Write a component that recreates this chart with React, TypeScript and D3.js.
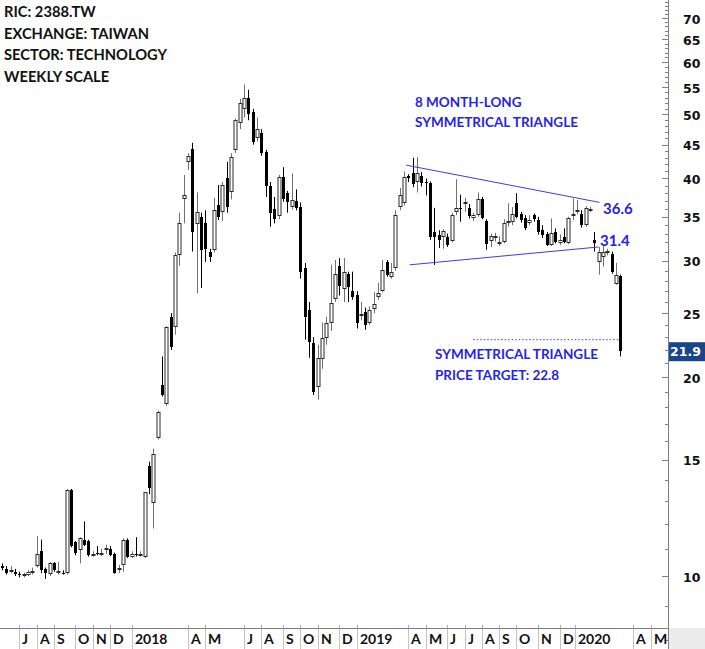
import React from 'react';
import * as d3 from 'd3';

// Weekly OHLC, 2388.TW (bar index 0 = first week shown, June 2017)
const opens = [
  10.35, 10.25, 10.2, 10.15, 10.08, 10.0, 10.05, 10.15, 10.35, 10.9,
  10.25, 10.07, 10.45, 10.1, 10.12, 10.1, 13.5, 11.25, 10.95, 11.35,
  11.3, 10.75, 10.82, 10.75, 11.0, 11.0, 10.8, 10.25, 10.4, 11.35,
  10.7, 10.78, 10.75, 10.7, 14.7, 12.9, 16.2, 19.46, 18.2, 24.7,
  23.8, 30.6, 37.2, 42.4, 44.3, 34.1, 35.0, 34.3, 30.9, 31.2,
  36.5, 35.6, 40.0, 38.2, 44.1, 48.5, 51.0, 53.0, 50.5, 46.0,
  46.9, 43.8, 39.0, 36.0, 35.1, 40.2, 38.0, 36.2, 37.0, 36.2,
  29.3, 25.3, 22.5, 19.3, 21.3, 22.9, 24.2, 26.3, 29.5, 27.2,
  28.7, 27.0, 26.6, 24.9, 25.1, 24.2, 25.4, 26.5, 27.0, 29.9,
  28.4, 29.3, 36.2, 36.7, 40.3, 40.8, 39.5, 40.3, 39.5, 39.4,
  33.2, 32.9, 32.6, 32.6, 32.2, 35.6, 36.1, 36.7, 36.1, 34.8,
  35.2, 37.3, 34.5, 32.2, 32.7, 31.8, 32.1, 34.4, 34.4, 36.7,
  35.3, 34.8, 34.2, 35.2, 34.6, 33.4, 33.0, 31.7, 33.2, 31.9,
  32.6, 31.9, 35.3, 35.8, 35.4, 34.0, 35.95, 32.3, 29.9, 30.4,
  30.8, 30.7, 27.7, 28.5,
];
const highs = [
  10.45, 10.35, 10.35, 10.25, 10.15, 10.12, 10.2, 10.3, 11.5, 11.35,
  10.3, 10.5, 10.5, 10.5, 10.2, 13.55, 13.55, 11.3, 11.45, 12.1,
  11.35, 10.9, 11.1, 11.0, 11.15, 11.1, 10.85, 10.4, 11.4, 11.4,
  10.9, 11.45, 10.9, 13.4, 14.9, 15.6, 17.8, 21.5, 23.9, 25.0,
  30.9, 35.5, 40.5, 43.7, 45.3, 38.1, 35.5, 35.8, 31.3, 37.4,
  39.1, 39.5, 42.4, 43.7, 49.3, 52.8, 55.5, 54.5, 51.0, 49.5,
  47.5, 44.2, 39.5, 37.5, 40.5, 41.6, 38.3, 40.7, 38.5, 36.8,
  29.8, 26.0, 23.0, 22.4, 24.2, 24.7, 29.6, 30.1, 30.3, 30.3,
  28.9, 28.9, 27.0, 26.0, 25.5, 25.6, 26.9, 27.8, 30.1, 30.1,
  29.8, 35.8, 38.7, 41.0, 40.6, 43.0, 43.1, 40.9, 40.0, 39.6,
  36.1, 33.4, 33.5, 33.0, 35.5, 39.9, 37.8, 37.4, 36.6, 35.5,
  38.1, 37.5, 34.7, 33.0, 33.1, 32.7, 34.7, 36.7, 36.2, 38.0,
  35.6, 35.2, 35.2, 35.4, 35.0, 34.0, 33.2, 34.8, 33.6, 32.9,
  33.6, 35.0, 37.3, 37.1, 35.8, 36.3, 36.2, 33.2, 31.5, 31.6,
  31.3, 31.0, 29.8, 28.6,
];
const lows = [
  10.2, 10.05, 10.1, 10.0, 9.95, 9.95, 10.0, 10.05, 10.3, 10.1,
  9.9, 10.0, 10.15, 10.05, 10.05, 10.05, 11.05, 10.75, 10.45, 11.1,
  10.7, 10.7, 10.75, 10.72, 10.8, 10.72, 10.08, 10.1, 10.15, 10.65,
  10.65, 10.7, 10.7, 10.65, 13.3, 11.8, 16.1, 18.7, 18.1, 22.0,
  23.2, 29.5, 34.2, 41.2, 31.0, 26.8, 27.3, 29.9, 29.9, 30.9,
  34.6, 34.5, 35.5, 37.2, 43.7, 47.5, 49.5, 49.0, 45.0, 45.5,
  43.3, 37.5, 33.8, 34.2, 34.7, 36.9, 35.5, 35.9, 35.8, 28.2,
  22.8, 21.4, 18.8, 18.5, 20.6, 22.4, 23.5, 26.0, 26.6, 26.0,
  26.0, 26.2, 23.7, 24.4, 23.6, 24.0, 25.0, 26.2, 26.9, 28.4,
  28.2, 29.0, 35.8, 36.4, 39.5, 38.8, 38.1, 38.9, 37.7, 32.3,
  29.6, 31.4, 31.3, 31.5, 32.0, 35.2, 34.4, 35.6, 34.8, 34.5,
  35.0, 34.7, 31.2, 31.5, 32.1, 31.6, 31.9, 33.8, 34.0, 34.8,
  34.3, 33.4, 34.0, 34.4, 32.9, 32.5, 31.6, 31.6, 31.9, 31.7,
  31.9, 31.8, 34.6, 35.3, 33.7, 33.8, 35.6, 31.0, 28.6, 29.4,
  30.6, 28.7, 27.6, 21.5,
];
const closes = [
  10.3, 10.1, 10.22, 10.07, 10.03, 10.08, 10.15, 10.18, 10.8, 10.2,
  10.1, 10.45, 10.2, 10.18, 10.1, 13.5, 11.1, 10.85, 11.4, 11.15,
  10.75, 10.8, 10.8, 10.82, 11.02, 10.75, 10.12, 10.3, 11.35, 10.7,
  10.8, 10.75, 10.8, 13.4, 13.6, 15.3, 17.7, 18.8, 23.8, 22.2,
  30.6, 34.2, 37.75, 43.3, 33.2, 35.6, 31.2, 31.3, 30.4, 35.8,
  35.0, 39.1, 36.2, 43.1, 49.0, 52.0, 53.0, 50.0, 45.5, 47.5,
  43.7, 39.0, 35.5, 34.7, 40.2, 37.2, 36.8, 37.1, 36.1, 28.9,
  24.7, 22.6, 19.0, 21.4, 22.9, 24.2, 25.9, 28.7, 27.5, 28.9,
  27.4, 26.5, 24.2, 24.95, 24.0, 25.3, 25.8, 26.8, 29.1, 28.6,
  28.9, 35.2, 37.8, 40.2, 40.0, 39.3, 40.8, 39.4, 39.45, 32.6,
  32.6, 32.3, 33.3, 31.7, 35.2, 36.1, 35.9, 36.8, 35.1, 35.2,
  37.2, 34.8, 31.8, 32.7, 32.75, 32.0, 34.3, 34.5, 35.4, 35.0,
  34.6, 33.7, 34.6, 34.7, 33.2, 32.8, 31.7, 33.1, 32.1, 32.3,
  32.1, 34.8, 35.4, 35.85, 34.0, 36.1, 36.0, 31.9, 30.9, 31.0,
  31.05, 28.9, 28.6, 21.9,
];

const priceTicks = [10, 15, 20, 25, 30, 35, 40, 45, 50, 55, 60, 65, 70];
const monthLabels = ['J', 'A', 'S', 'O', 'N', 'D', '2018', 'A', 'M', 'J', 'A', 'S', 'O', 'N', 'D', '2019', 'A', 'M', 'J', 'J', 'A', 'S', 'O', 'N', 'D', '2020', 'A', 'M'];
const monthBars = [4, 8, 12, 17, 21, 25, 30, 43, 47, 56, 60, 65, 69, 73, 78, 82, 94, 98, 103, 107, 111, 115, 119, 124, 129, 132.5, 146, 150];

const upperTrend = [{ bar: 93.5, price: 41.9 }, { bar: 138.2, price: 36.8 }];
const lowerTrend = [{ bar: 94.3, price: 29.6 }, { bar: 138, price: 31.5 }];
const targetLine = [{ bar: 109, price: 22.8 }, { bar: 143, price: 22.8 }];
const lastPrice = 21.9;

const titleLines = ['RIC: 2388.TW', 'EXCHANGE: TAIWAN', 'SECTOR: TECHNOLOGY', 'WEEKLY SCALE'];

const W = 705;
const H = 649;
const AXIS_X = 668;
const AXIS_Y = 628;
const FONT = 'Lato, "Open Sans", sans-serif';
const AXIS_FONT = '"DejaVu Sans", Verdana, sans-serif';
const BLUE = '#2424e8';

export default function App() {
  const x = d3.scaleLinear().domain([0, 150]).range([2, 650.5]);
  const y = d3.scaleLog().domain([10, 70]).range([576, 18]);

  const minorTicks = d3.range(8, 75);
  const line = d3.line<{ bar: number; price: number }>().x((d) => x(d.bar)).y((d) => y(d.price));

  return (
    <svg width={W} height={H} style={{ position: 'absolute', left: 0, top: 0, background: '#fff' }} fontFamily={FONT}>
      <rect x={0} y={0} width={W} height={H} fill="#fff" />
      {/* bottom-right corner */}
      <rect x={AXIS_X} y={AXIS_Y} width={W - AXIS_X} height={H - AXIS_Y} fill="#ececec" />

      {/* candles */}
      <g>
        {opens.map((o, i) => {
          const c = closes[i];
          const cx = Math.round(x(i));
          const up = c >= o;
          const top = Math.round(y(Math.max(o, c)));
          const bot = Math.round(y(Math.min(o, c)));
          const hgt = Math.max(1, bot - top);
          return (
            <g key={i}>
              <line x1={cx + 0.5} x2={cx + 0.5} y1={y(highs[i])} y2={y(lows[i])} stroke={up ? '#707070' : '#000'} strokeWidth={1} />
              {up ? (
                <rect x={cx - 1} y={top + 0.5} width={3} height={Math.max(1, hgt - 1)} fill="#fff" stroke="#2a2a2a" strokeWidth={1} />
              ) : (
                <rect x={cx - 1} y={top} width={3} height={hgt} fill="#000" />
              )}
            </g>
          );
        })}
      </g>

      {/* triangle */}
      <path d={line(upperTrend) || ''} stroke="#3c3cf0" strokeWidth={1} fill="none" />
      <path d={line(lowerTrend) || ''} stroke="#3c3cf0" strokeWidth={1} fill="none" />
      <path d={line(targetLine) || ''} stroke="#3c3cf0" strokeWidth={1} strokeDasharray="1.5,2" fill="none" />

      {/* title */}
      {titleLines.map((t, i) => (
        <text key={t} x={4} y={17 + i * 21.7} fontSize={14.7} fontWeight={700} fill="#111">{t}</text>
      ))}

      {/* annotations */}
      <g fill={BLUE} fontSize={13.5} fontWeight={700}>
        <text x={415} y={107}>8 MONTH-LONG</text>
        <text x={415} y={127}>SYMMETRICAL TRIANGLE</text>
        <text x={603} y={214} fontSize={15}>36.6</text>
        <text x={600} y={246} fontSize={15}>31.4</text>
        <text x={435} y={359}>SYMMETRICAL TRIANGLE</text>
        <text x={435} y={380}>PRICE TARGET: 22.8</text>
      </g>

      {/* right axis */}
      <line x1={AXIS_X + 0.5} x2={AXIS_X + 0.5} y1={0} y2={H} stroke="#808080" />
      {minorTicks.map((v) => (
        <line key={v} x1={AXIS_X - (v % 5 === 0 ? 6 : 3)} x2={AXIS_X} y1={Math.round(y(v)) + 0.5} y2={Math.round(y(v)) + 0.5} stroke="#808080" />
      ))}
      {priceTicks.map((v) => (
        <text key={v} x={683} y={y(v) + 5.5} fontSize={12.5} fontWeight={700} fill="#111" fontFamily={AXIS_FONT}>{v}</text>
      ))}
      <rect x={AXIS_X + 1} y={y(lastPrice) - 9} width={W - AXIS_X - 1} height={19} fill="#1c4587" />
      <text x={670} y={y(lastPrice) + 5} fontSize={12.5} fontWeight={700} fill="#fff" fontFamily={AXIS_FONT}>{lastPrice.toFixed(1)}</text>

      {/* bottom axis */}
      <line x1={0} x2={AXIS_X} y1={AXIS_Y + 0.5} y2={AXIS_Y + 0.5} stroke="#808080" />
      {monthBars.map((b, i) => {
        const sx = Math.round(x(b)) + 0.5;
        return (
          <g key={i}>
            <line x1={sx} x2={sx} y1={AXIS_Y - 3} y2={AXIS_Y} stroke="#b0b0b0" />
            <line x1={sx} x2={sx} y1={AXIS_Y + 1} y2={H} stroke="#c4c4c4" />
            <text x={sx + 2.5} y={644} fontSize={14} fontWeight={700} fill="#111">{monthLabels[i]}</text>
          </g>
        );
      })}
    </svg>
  );
}
